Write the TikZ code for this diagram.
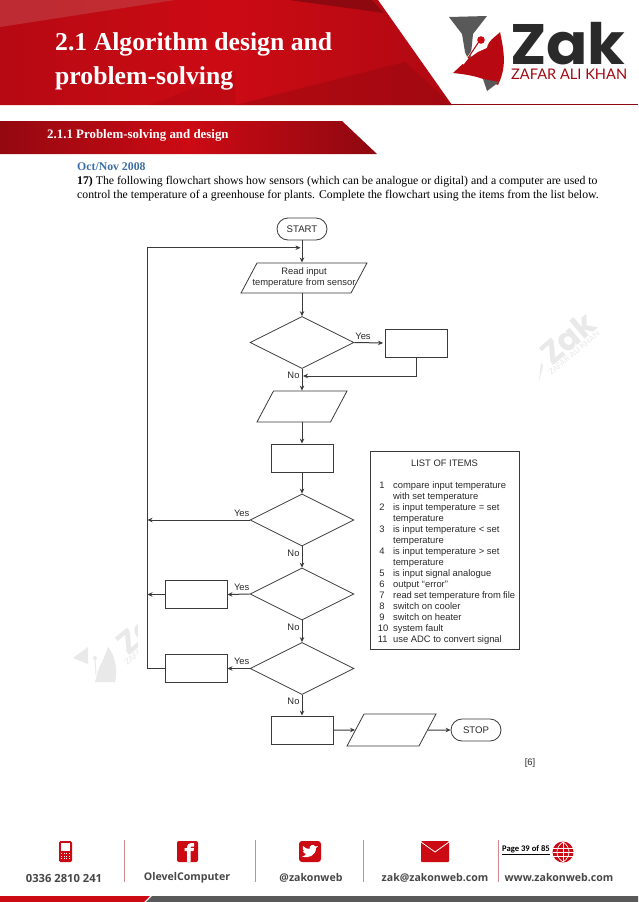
\documentclass[tikz,border=0pt]{standalone}
\usepackage{fontspec}
\setmainfont{Liberation Serif}
\setsansfont{Liberation Sans}
\newfontfamily\zakfont{Poppins}
\newfontfamily\zafarfont{Lato}
\newfontfamily\footfont{Open Sans}
\newfontfamily\pagefont{Carlito}
\usetikzlibrary{arrows.meta,shapes.geometric,shapes.misc,calc}
\definecolor{zred}{HTML}{CC0A14}
\definecolor{zdark}{HTML}{8E0810}
\definecolor{zlight}{HTML}{C23A40}
\definecolor{zline}{HTML}{3A3A3A}
\definecolor{ztext}{HTML}{2A2A2A}
\definecolor{zgray}{HTML}{595959}
\definecolor{zwm}{HTML}{E9E9E9}
\definecolor{zblue}{HTML}{3A6EA8}
\definecolor{zsep}{HTML}{D08A8E}
\tikzset{
  flowtext/.style={font=\sffamily\fontsize{9.4}{11}\selectfont,text=ztext},
  boxnode/.style={draw=zline,line width=.9pt,rectangle,minimum width=62pt,minimum height=28pt,inner sep=0pt},
  decide/.style={draw=zline,line width=.8pt,diamond,aspect=2,minimum width=104pt,minimum height=52pt,inner sep=0pt},
  ioshape/.style={draw=zline,line width=.8pt,trapezium,trapezium left angle=62,trapezium right angle=118,trapezium stretches body,inner xsep=0pt,inner ysep=0pt,flowtext,align=center},
  terminal/.style={draw=zline,line width=.8pt,rounded rectangle,minimum width=50pt,minimum height=22pt,inner sep=0pt,font=\sffamily\fontsize{9.6}{11}\selectfont,text=ztext},
  flowarrow/.style={draw=zline,line width=1pt,-{Stealth[length=5pt,width=4.5pt]}},
  branch/.style={flowtext},
  footlabel/.style={font=\footfont\bfseries\fontsize{10.6}{12}\selectfont,text=zgray!80!black},
  footsep/.style={draw=zsep,line width=1pt},
}
\begin{document}
\begin{tikzpicture}[x=1pt,y=-1pt]
\useasboundingbox (0,0) rectangle (638,902);
\fill[white] (0,0) rectangle (638,902);
% header
\shade[left color=zdark!35!zred,right color=zdark!45!zred,middle color=zred] (0,0) -- (378,0) -- (452,105) -- (0,105) -- cycle;
\fill[zlight,opacity=.7] (0,0) -- (175,0) -- (0,27) -- cycle;
\fill[zdark] (289,0) -- (372,0) -- (384,13) -- cycle;
\fill[zdark,opacity=.2] (150,105) -- (235,72) -- (235,105) -- cycle;
\fill[zdark,opacity=.4] (235,105) -- (405,62) -- (452,105) -- cycle;
\draw[zdark,line width=1pt] (440,104.5) -- (638,104.5);
\node[anchor=base west,inner sep=0,text=white,font=\bfseries\fontsize{25.7}{30}\selectfont] (title1) at (55,50) {2.1 Algorithm design and};
\node[anchor=base west,inner sep=0,text=white,font=\bfseries\fontsize{25.7}{30}\selectfont] (title2) at (55,84) {problem-solving};
% band
\shade[left color=zdark!90!zred,right color=zdark,middle color=zred] (0,121) -- (342,121) -- (377,154) -- (0,154) -- cycle;
\node[anchor=base west,inner sep=0,text=white,font=\bfseries\fontsize{12.9}{16}\selectfont] (band) at (47,138) {2.1.1 Problem-solving and design};
% logo
\fill[zgray] (449,17) -- (487,16) -- (473,34) -- (470,64) -- (465,52) -- (462,34) -- cycle;
\fill[zred!90!black] (453,73) -- (468,59) -- (478,52) -- (487,48 ) .. controls (488,40) and (498,35) .. (500,32) .. controls (505,55) and (506,68) .. (498,85) -- (483,79) .. controls (472,75) and (462,74) .. (453,73) -- cycle;
\fill[zgray] (483,79) -- (499,82) -- (487,91) -- cycle;
\draw[white,line width=1.6pt] (463,64) -- (480,41);
\draw[zred!90!black,line width=1pt] (468,58) -- (480,40);
\fill[zred] (481,40) circle (3.8pt);
\node[anchor=base west,inner sep=0,text=ztext,font=\zakfont\bfseries\fontsize{57}{60}\selectfont] (zak) at (510,64) {\scalebox{1.07}[1]{Zak}};
\node[anchor=base west,inner sep=0,text=zred!80!black,font=\zafarfont\fontsize{14.6}{16}\selectfont] (zafar) at (511,79) {ZAFAR ALI KHAN};
% watermarks
\node[rotate=40,inner sep=0,text=zwm,font=\zakfont\bfseries\fontsize{32}{34}\selectfont] (wmzak) at (568,338) {Zak};
\node[rotate=40,inner sep=0,text=zwm,font=\zafarfont\fontsize{8}{9}\selectfont] (wmzafar) at (574,353) {ZAFAR ALI KHAN};
\fill[zwm] (539,381) -- (541,362) -- (543,366) -- cycle;
\begin{scope}
\clip (0,600) rectangle (137.5,700);
\node[rotate=40,inner sep=0,text=zwm,font=\zakfont\bfseries\fontsize{32}{34}\selectfont] (wmzakb) at (144,628) {Zak};
\node[rotate=40,inner sep=0,text=zwm,font=\zafarfont\fontsize{8}{9}\selectfont] (wmzafarb) at (150,643) {ZAFAR ALI KHAN};
\fill[zwm] (73,658) -- (88,647) -- (88,664) -- cycle;
\fill[zwm] (95,682) -- (99,668) -- (103,660) -- (108,647) .. controls (115,655) and (118,670) .. (115,682) -- cycle;
\fill[zwm] (95,658) circle (2pt);
\draw[zwm,line width=1pt] (95,658) -- (96,675);
\end{scope}
% intro text
\node[anchor=base west,inner sep=0,text=zblue,font=\bfseries\fontsize{11.77}{14}\selectfont] (year) at (77,170) {Oct/Nov 2008};
\node[anchor=base west,inner sep=0,text=black,font=\fontsize{11.77}{14}\selectfont] (q1) at (77,184) {\textbf{17)} The following flowchart shows how sensors (which can be analogue or digital) and a computer are used to};
\node[anchor=base west,inner sep=0,text=black,font=\fontsize{11.77}{14}\selectfont] (q2) at (77,198) {control the temperature of a greenhouse for plants. Complete the flowchart using the items from the list below.};
% flowchart
\node[terminal] (start) at (302,229) {START};
\node[ioshape,minimum width=126pt,inner ysep=5.2pt] (read) at (304,278) {\makebox[92pt]{Read input}\\\makebox[92pt]{temperature from sensor}};
\node[decide] (d1) at (302,342.5) {};
\node[boxnode] (ybox) at (416,343) {};
\node[ioshape,minimum width=90pt] (para) at (302,406.5) {\rule{0pt}{31pt}};
\node[boxnode] (box2) at (302,458) {};
\node[decide] (d2) at (302,520) {};
\node[decide] (d3) at (302,594) {};
\node[decide] (d4) at (302,668.5) {};
\node[boxnode] (lbox1) at (196,594.5) {};
\node[boxnode] (lbox2) at (196,668.5) {};
\node[boxnode] (box3) at (302,730) {};
\node[ioshape,minimum width=89pt] (parab) at (391.5,730) {\rule{0pt}{32pt}};
\node[terminal] (stop) at (476,730) {STOP};
\coordinate (loopin) at (302,247.7);
\coordinate (loopb) at (147.5,668.5);
\coordinate (looptop) at (147.5,247.7);
\coordinate (joinno) at (302,376);
\coordinate (joind) at (147.5,520);
\coordinate (joinl) at (147.5,594.5);
% connectors
\draw[flowarrow] (start.south) -- (start.south |- read.north);
\draw[flowarrow] (d1.north |- read.south) -- (d1.north);
\draw[flowarrow,shorten >=1.5pt] (d1.east) -- (ybox.west);
\draw[flowarrow,shorten >=1pt] (ybox.south) |- (joinno);
\draw[flowarrow] (d1.south) -- (para.north);
\draw[flowarrow] (para.south) -- (box2.north);
\draw[flowarrow] (box2.south) -- (d2.north);
\draw[flowarrow] (d2.west) -- (joind);
\draw[flowarrow] (d2.south) -- (d3.north);
\draw[flowarrow] (d3.west) -- (lbox1.east);
\draw[flowarrow] (lbox1.west) -- (joinl);
\draw[flowarrow] (d3.south) -- (d4.north);
\draw[flowarrow] (d4.west) -- (lbox2.east);
\draw[flowarrow,shorten >=1.5pt] (lbox2.west) -- (loopb) -- (looptop) -- (loopin);
\draw[flowarrow] (d4.south) -- (box3.north);
\draw[flowarrow] (box3.east) -- (parab.west);
\draw[flowarrow] (parab.east) -- (stop.west);
% labels
\node[branch] (ly1) at (363,336) {Yes};
\node[branch] (ln1) at (293.5,375.7) {No};
\node[branch] (ly2) at (241.7,513) {Yes};
\node[branch] (ln2) at (293.5,553) {No};
\node[branch] (ly3) at (241.7,587.7) {Yes};
\node[branch] (ln3) at (293.5,627.7) {No};
\node[branch] (ly4) at (241.7,661.7) {Yes};
\node[branch] (ln4) at (293.5,701.7) {No};
% list
\node[draw=zline,line width=1pt,rectangle,minimum width=149pt,minimum height=198pt,inner sep=0pt,flowtext] (list) at (444.5,550) {\begin{tabular}{@{\hspace{4pt}}p{15.3pt}@{}p{122pt}@{}}
\multicolumn{2}{c}{\rule{0pt}{11.7pt}LIST OF ITEMS}\\
\multicolumn{2}{c}{}\\
\hspace*{1.4pt}1 & compare input temperature\\
 & with set temperature\\
\hspace*{1.4pt}2 & is input temperature = set\\
 & temperature\\
\hspace*{1.4pt}3 & is input temperature < set\\
 & temperature\\
\hspace*{1.4pt}4 & is input temperature > set\\
 & temperature\\
\hspace*{1.4pt}5 & is input signal analogue\\
\hspace*{1.4pt}6 & output “error”\\
\hspace*{1.4pt}7 & read set temperature from file\\
\hspace*{1.4pt}8 & switch on cooler\\
\hspace*{1.4pt}9 & switch on heater\\
10 & system fault\\
11 & use ADC to convert signal
\end{tabular}};
\node[flowtext] (mark) at (530,763) {[6]};
% footer
\fill[zred,rounded corners=1.5pt] (59,841) rectangle (72,862);
\fill[white] (61,843) rectangle (70,851);
\foreach \gx in {61,63.5,66,68.5}{\foreach \gy in {853,855.5,858}{\fill[white] (\gx,\gy) rectangle ++(1.2,1.2);}}
\fill[zred,rounded corners=2pt] (177,841) rectangle (198,862);
\fill[white] (187,862) -- (187,851) -- (184.5,851) -- (184.5,848) -- (187,848) .. controls (187,844) and (189,843) .. (194,843) -- (194,846.5) .. controls (191,846.5) and (190.5,846.5) .. (190.5,848) -- (194,848) -- (193.5,851) -- (190.5,851) -- (190.5,862) -- cycle;
\fill[zred,rounded corners=3pt] (299,841) rectangle (321,862);
\fill[white] (302,856.5) .. controls (309,859) and (316,855) .. (316,848) -- (318,846) -- (315.5,846.5) .. controls (313.5,843.5) and (309,845) .. (309.5,849) .. controls (307,849) and (305,848) .. (303,846) .. controls (302,848) and (303,850) .. (304,851) -- (303,851) .. controls (303,852.5) and (304.5,853.5) .. (306,854) .. controls (305,855.5) and (303.5,856.5) .. (302,856.5) -- cycle;
\fill[zred,rounded corners=1pt] (421,841) rectangle (449,862);
\draw[white,line width=.8pt] (421,842) -- (435,852) -- (449,842);
\fill[zred] (563,852) circle (10.5pt);
\draw[white,line width=.7pt] (553,848) -- (573,848) (553,852) -- (574,852) (553,856) -- (573,856) (563,842) -- (563,862);
\draw[white,line width=.7pt] (563,842) .. controls (555,847) and (555,857) .. (563,862) (563,842) .. controls (571,847) and (571,857) .. (563,862);
\node[footlabel,font=\footfont\bfseries\fontsize{11.2}{12}\selectfont] (f1) at (64,878) {0336 2810 241};
\node[footlabel] (f2) at (187,878) {OlevelComputer};
\node[footlabel] (f3) at (311,878) {@zakonweb};
\node[footlabel] (f4) at (435,878) {zak@zakonweb.com};
\node[footlabel] (f5) at (559,878) {www.zakonweb.com};
\node[anchor=base west,inner sep=0,text=black,font=\pagefont\bfseries\fontsize{8.6}{10}\selectfont] (page) at (502,851) {\underline{Page 39 of 85}};
\coordinate (s1a) at (124,840); \coordinate (s1b) at (124,882);
\coordinate (s2a) at (255,840); \coordinate (s2b) at (255,882);
\coordinate (s3a) at (363,840); \coordinate (s3b) at (363,882);
\coordinate (s4a) at (498,840); \coordinate (s4b) at (498,882);
\draw[footsep] (s1a) -- (s1b);
\draw[footsep] (s2a) -- (s2b);
\draw[footsep] (s3a) -- (s3b);
\draw[footsep] (s4a) -- (s4b);
\fill[zred] (0,896) -- (150,896) -- (144,902) -- (0,902) -- cycle;
\fill[zgray] (152,896) -- (638,896) -- (638,902) -- (146,902) -- cycle;
\end{tikzpicture}
\end{document}
